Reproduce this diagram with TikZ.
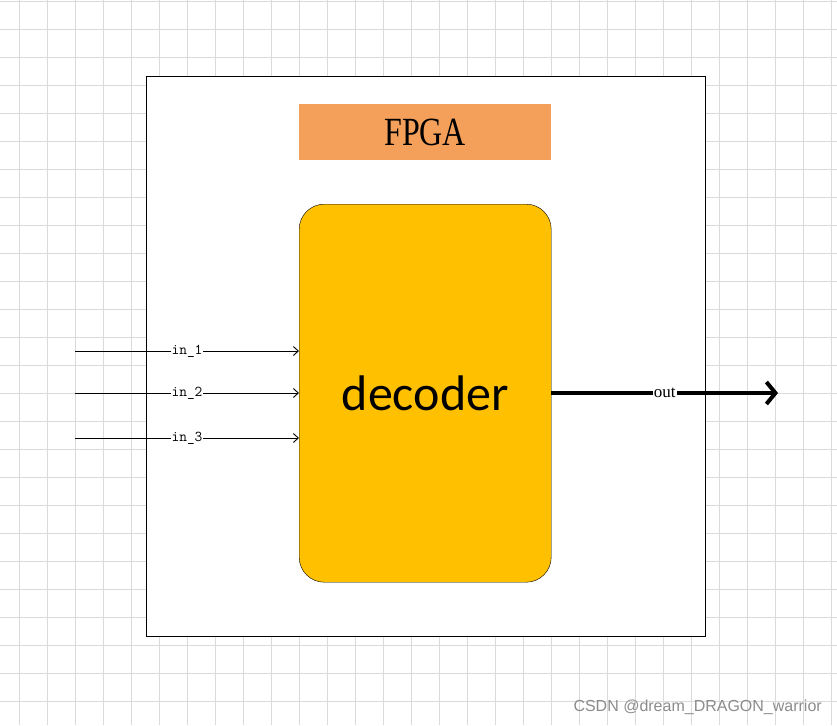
\documentclass[tikz,border=0pt]{standalone}
\usepackage{fontspec}
\setmainfont{Liberation Serif}
\setsansfont{Carlito}
\newfontfamily\wm{Liberation Sans}
\usetikzlibrary{arrows.meta}
\definecolor{gridc}{RGB}{218,218,218}
\definecolor{fpgac}{RGB}{244,160,90}
\definecolor{decc}{RGB}{255,192,0}
\tikzset{
  inwire/.style={line width=0.9pt,-{Straight Barb[length=5pt,width=9pt]}},
  lbl/.style={fill=white,inner sep=1pt,font=\fontsize{15}{15}\selectfont\ttfamily},
}
\begin{document}
\begin{tikzpicture}[x=1pt,y=-1pt]
\useasboundingbox (0,0) rectangle (837,725);
\fill[white] (0,0) rectangle (837,725);
\foreach \x in {19,47,...,837} \draw[gridc,line width=0.8pt] (\x,0) -- (\x,725);
\foreach \y in {1,29,...,725} \draw[gridc,line width=0.8pt] (0,\y) -- (837,\y);
\node[draw=black,fill=white,line width=0.9pt,minimum width=559pt,minimum height=560pt,anchor=north west,inner sep=0] (outer) at (146,76) {};
\node[fill=fpgac,minimum width=252pt,minimum height=56pt,anchor=north west,inner sep=0,font=\fontsize{40}{40}\selectfont] (fpga) at (299,104) {\scalebox{0.8}[1]{FPGA}};
\node[draw=black,fill=decc,rounded corners=25pt,minimum width=252pt,minimum height=378pt,anchor=north west,inner sep=0,font=\sffamily\fontsize{50}{50}\selectfont] (dec) at (299,204) {decoder};
\coordinate (s1) at (75,351); \coordinate (s2) at (75,393); \coordinate (s3) at (75,438);
\coordinate (e1) at (dec.west |- s1); \coordinate (e2) at (dec.west |- s2); \coordinate (e3) at (dec.west |- s3);
\foreach \i in {1,2,3} \draw[inwire] (s\i) -- (e\i) node[lbl,pos=0.5] {in\_\i};
\coordinate (o) at (778,393);
\draw[line width=4.5pt,-{Straight Barb[length=9pt,width=22pt,line width=4pt]}] (dec.east |- o) -- (o) node[lbl,pos=0.5,font=\fontsize{17}{17}\selectfont] {out};
\node[anchor=south east,text=gray!90,font=\wm\fontsize{16}{16}\selectfont,inner sep=0] (wmk) at (822,715) {CSDN @dream\_DRAGON\_warrior};
\end{tikzpicture}
\end{document}
